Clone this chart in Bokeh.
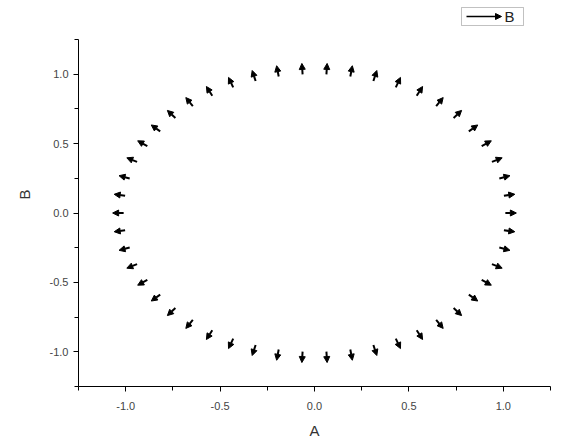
import numpy as np
from bokeh.plotting import figure
from bokeh.models import (ColumnDataSource, Arrow, NormalHead, FixedTicker, Label,
                          BoxAnnotation, Range1d, PrintfTickFormatter)
from bokeh.embed import file_html
from bokeh.resources import INLINE

# ---- data ----
x_pos = [1.04, 1.032, 1.007, 0.967, 0.911, 0.841, 0.758, 0.663, 0.557, 0.443, 0.321, 0.195, 0.065,
         -0.065, -0.195, -0.321, -0.443, -0.557, -0.663, -0.758, -0.841, -0.911, -0.967, -1.007, -1.032,
         -1.04, -1.032, -1.007, -0.967, -0.911, -0.841, -0.758, -0.663, -0.557, -0.443, -0.321, -0.195,
         -0.065, 0.065, 0.195, 0.321, 0.443, 0.557, 0.663, 0.758, 0.841, 0.911, 0.967, 1.007, 1.032]
y_pos = [0.0, 0.130, 0.259, 0.383, 0.501, 0.611, 0.712, 0.801, 0.878, 0.941, 0.989, 1.022, 1.038,
         1.038, 1.022, 0.989, 0.941, 0.878, 0.801, 0.712, 0.611, 0.501, 0.383, 0.259, 0.130,
         0.0, -0.130, -0.259, -0.383, -0.501, -0.611, -0.712, -0.801, -0.878, -0.941, -0.989, -1.022,
         -1.038, -1.038, -1.022, -0.989, -0.941, -0.878, -0.801, -0.712, -0.611, -0.501, -0.383, -0.259, -0.130]
vec_angle_deg = [0, 7.2, 14.4, 21.6, 28.8, 36, 43.2, 50.4, 57.6, 64.8, 72, 79.2, 86.4,
                 93.6, 100.8, 108, 115.2, 122.4, 129.6, 136.8, 144, 151.2, 158.4, 165.6, 172.8,
                 180, 187.2, 194.4, 201.6, 208.8, 216, 223.2, 230.4, 237.6, 244.8, 252, 259.2,
                 266.4, 273.6, 280.8, 288, 295.2, 302.4, 309.6, 316.8, 324, 331.2, 338.4, 345.6, 352.8]
vec_len_px = 11

x_ticks = [-1.0, -0.5, 0.0, 0.5, 1.0]
x_minor = [-1.25, -0.75, -0.25, 0.25, 0.75, 1.25]
y_ticks = [-1.0, -0.5, 0.0, 0.5, 1.0]
y_minor = [-1.25, -0.75, -0.25, 0.25, 0.75, 1.25]
axis_bounds = (-1.25, 1.25)
series_name = "B"

# ---- geometry ----
W, H = 567, 445
BL, BR, BT, BB = 78, 17, 2, 59
FW, FH = W - BL - BR, H - BT - BB
sx = FW / (axis_bounds[1] - axis_bounds[0])          # px per unit
sy = (386 - 39) / (axis_bounds[1] - axis_bounds[0])  # axis spans 347 px
y_top = axis_bounds[0] + FH / sy

p = figure(width=W, height=H, output_backend="svg", toolbar_location=None,
           x_range=Range1d(*axis_bounds), y_range=Range1d(axis_bounds[0], y_top),
           min_border_left=BL, min_border_right=BR, min_border_top=BT, min_border_bottom=BB)
p.outline_line_color = None
p.xgrid.visible = False
p.ygrid.visible = False
p.background_fill_color = "white"
p.border_fill_color = "white"

a = np.radians(vec_angle_deg)
dx = vec_len_px * np.cos(a) / sx
dy = vec_len_px * np.sin(a) / sy
xp = np.array(x_pos)
yp = np.array(y_pos)
src = ColumnDataSource(dict(x0=xp - dx / 2, y0=yp - dy / 2, x1=xp + dx / 2, y1=yp + dy / 2))
p.add_layout(Arrow(end=NormalHead(size=6, fill_color="black", line_color="black"),
                   x_start="x0", y_start="y0", x_end="x1", y_end="y1", source=src,
                   line_color="black", line_width=2))

for ax, ticks, minor in ((p.xaxis[0], x_ticks, x_minor), (p.yaxis[0], y_ticks, y_minor)):
    ax.ticker = FixedTicker(ticks=ticks, minor_ticks=minor)
    ax.bounds = axis_bounds
    ax.formatter = PrintfTickFormatter(format="%.1f")
    ax.axis_line_color = "black"
    ax.major_tick_line_color = "black"
    ax.minor_tick_line_color = "black"
    ax.major_tick_out = 5
    ax.major_tick_in = 0
    ax.minor_tick_out = 4
    ax.minor_tick_in = 0
    ax.major_label_text_font = "Liberation Sans"
    ax.major_label_text_font_size = "11px"
    ax.major_label_text_color = "#444444"
    ax.axis_label_text_font = "Liberation Sans"
    ax.axis_label_text_font_size = "15px"
    ax.axis_label_text_font_style = "normal"
    ax.axis_label_text_color = "#333333"

p.xaxis.axis_label = "A"
p.yaxis.axis_label = "B"
p.xaxis.major_label_standoff = 10
p.yaxis.major_label_standoff = 5
p.xaxis.axis_label_standoff = 9
p.yaxis.axis_label_standoff = 14

# ---- legend (screen geometry converted to data units) ----
def dxv(px):
    return axis_bounds[0] + (px - BL) / sx

def dyv(py):
    return axis_bounds[0] + (386 - py) / sy

p.add_layout(BoxAnnotation(left=dxv(461), right=dxv(523), bottom=dyv(25), top=dyv(7),
                           fill_color="white", fill_alpha=1.0, line_color="#333333", line_width=1))
p.add_layout(Arrow(end=NormalHead(size=6, fill_color="black", line_color="black"),
                   x_start=dxv(466), y_start=dyv(16), x_end=dxv(501), y_end=dyv(16),
                   line_color="black", line_width=1.5))
p.add_layout(Label(x=dxv(504), y=dyv(16), text=series_name, text_baseline="middle",
                   text_font="Liberation Sans", text_font_size="15px", text_color="#222222"))

open("out.html", "w").write(file_html(p, INLINE))
